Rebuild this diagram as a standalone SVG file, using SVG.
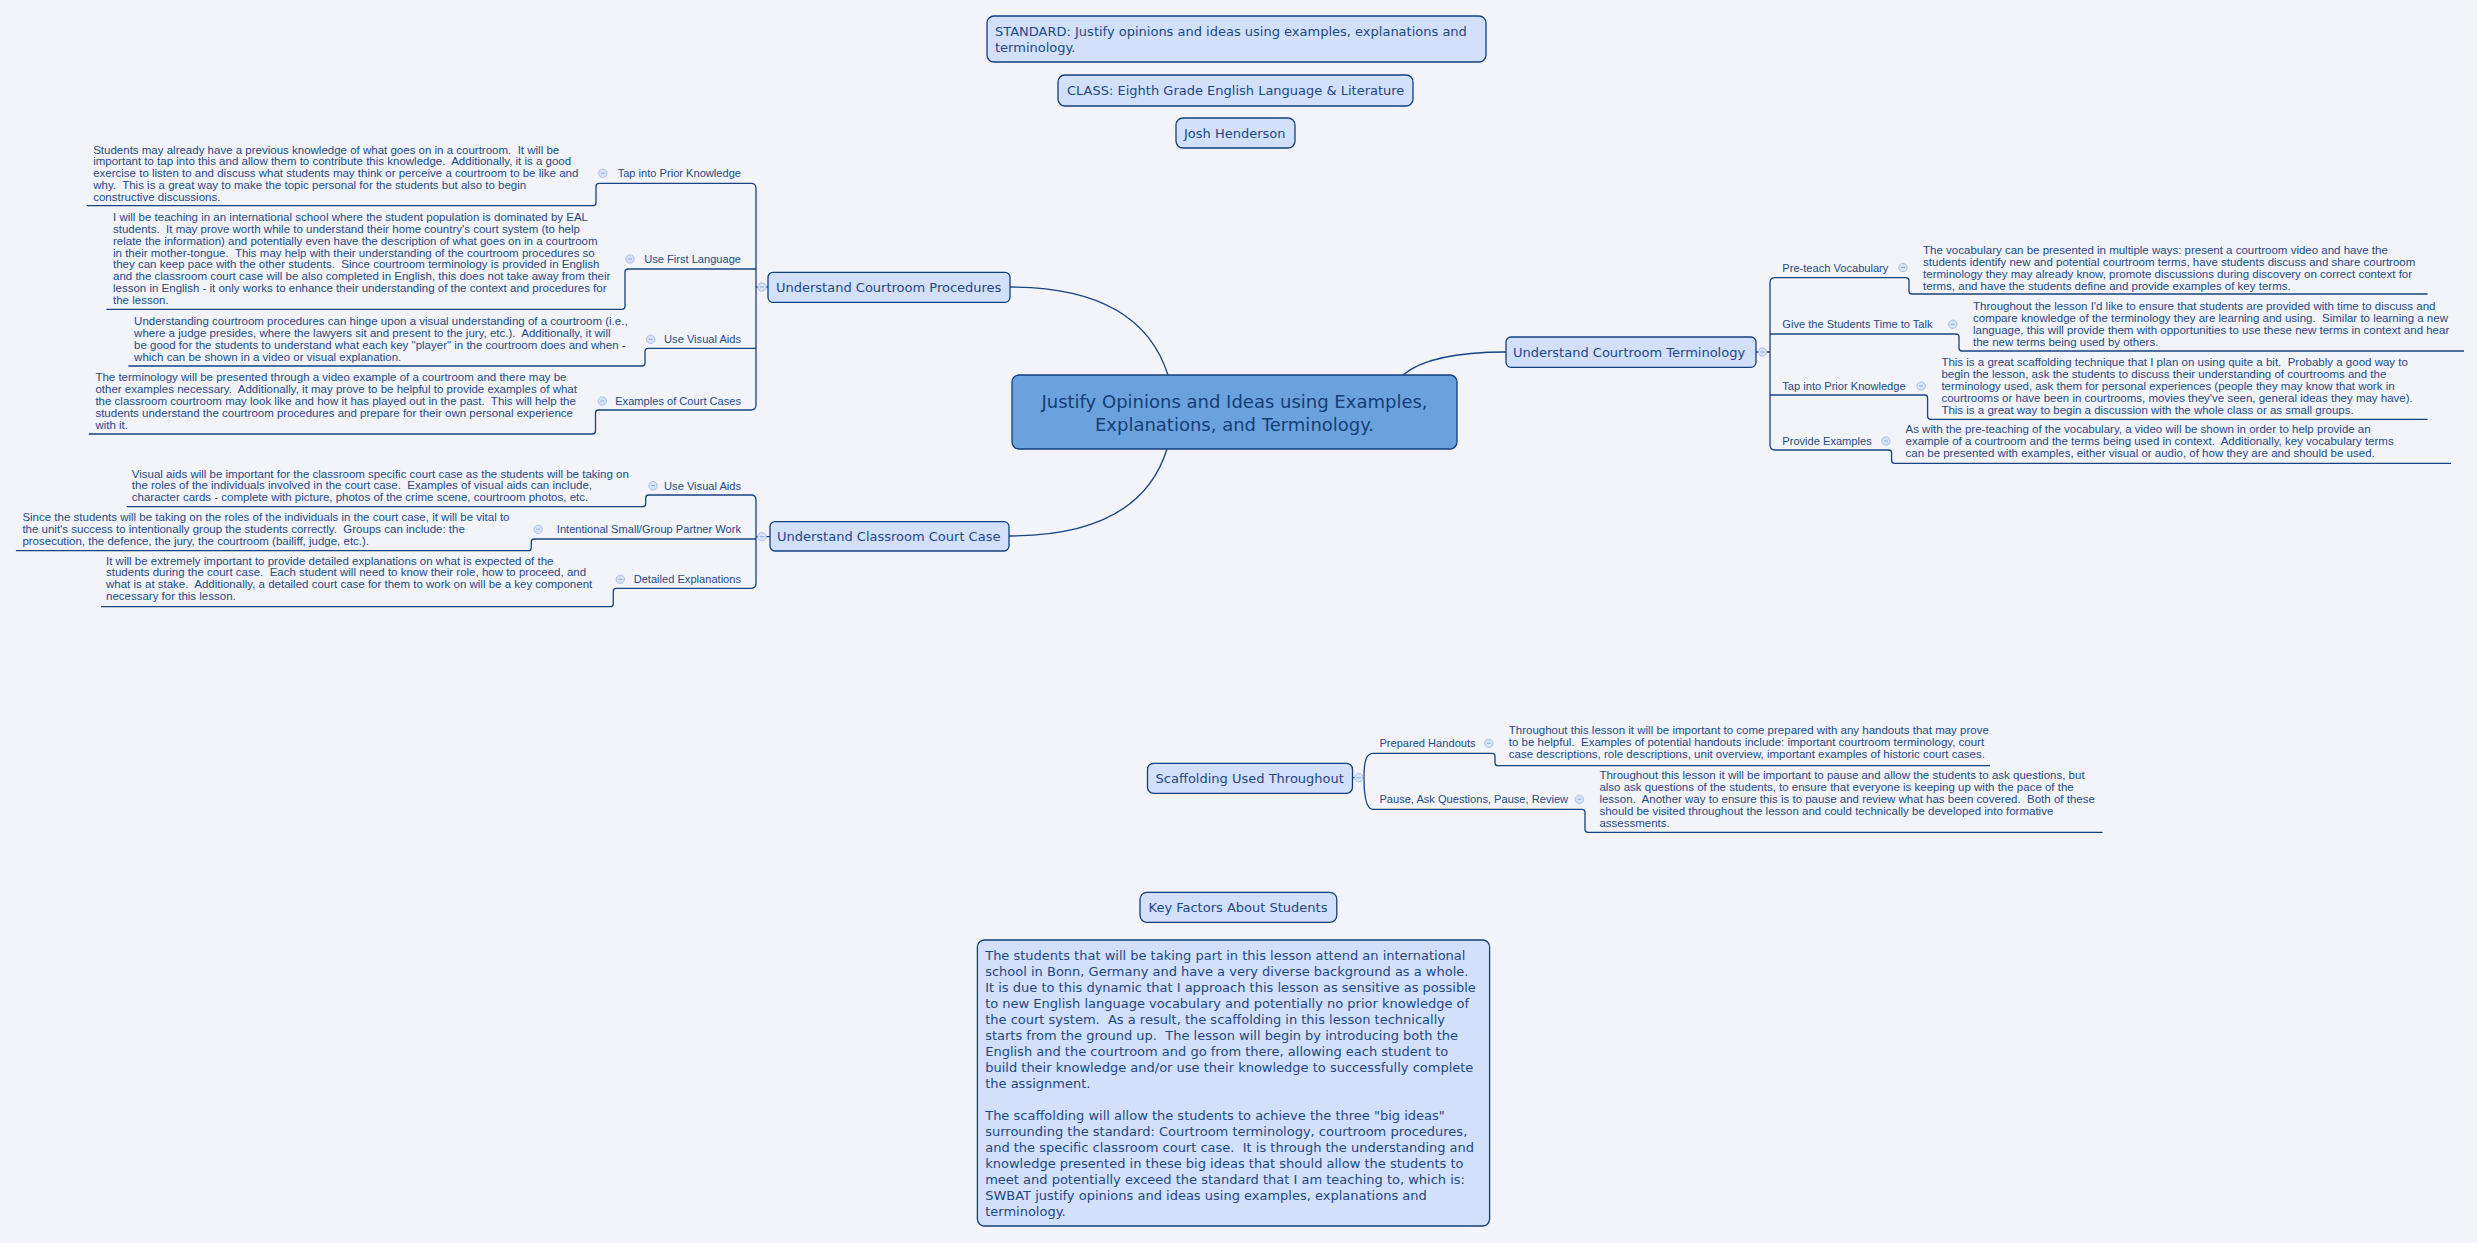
<svg xmlns="http://www.w3.org/2000/svg" xmlns:xlink="http://www.w3.org/1999/xlink" width="2477" height="1243" viewBox="0 0 2477 1243">
<defs>
<style>
.box{fill:#d3e0fb;stroke:#123f7e;stroke-width:1.3}
.root{fill:#6aa2de;stroke:#123f7e;stroke-width:1.3}
.big{font-family:"DejaVu Sans",Verdana,sans-serif;font-size:13px;fill:#1d4883}
.rt{font-family:"DejaVu Sans",Verdana,sans-serif;font-size:18px;fill:#153e75;text-anchor:middle}
.sm{font-family:"Liberation Sans",Arial,sans-serif;font-size:11.5px;fill:#1f4a86}
.lb{font-family:"Liberation Sans",Arial,sans-serif;font-size:11.1px;fill:#1f4a86}
.end{text-anchor:end}
.ln{fill:none;stroke:#17437f;stroke-width:1.3}
</style>
<g id="tg"><circle r="4.2" fill="#d7e3f8" stroke="#aac1ea" stroke-width="1"/><line x1="-2" y1="0" x2="2" y2="0" stroke="#8eaadb" stroke-width="1"/></g>
</defs>
<rect x="0" y="0" width="2477" height="1243" fill="#f2f4f9"/>

<g id="connectors">
<path class="ln" d="M1010,287 Q1140,287 1168,375"/>
<path class="ln" d="M1167,449 Q1140,536 1009,536"/>
<path class="ln" d="M1403,375 Q1430,352 1506,352"/>
<path class="ln" d="M751,183.3 Q756,183.3 756,188.3 V405 Q756,410 751,410 M756,287 H768"/>
<path class="ln" d="M86.6,205.7 H593 Q596,205.7 596,202.7 V186.3 Q596,183.3 599,183.3 H751"/>
<path class="ln" d="M106.4,309.3 H622 Q625,309.3 625,306.3 V272 Q625,269 628,269 H756"/>
<path class="ln" d="M128.4,366 H642 Q645,366 645,363 V351.3 Q645,348.3 648,348.3 H756"/>
<path class="ln" d="M88.8,434 H592.5 Q595.5,434 595.5,431 V413 Q595.5,410 598.5,410 H751"/>
<path class="ln" d="M751,495 Q756,495 756,500 V583.3 Q756,588.3 751,588.3 M756,536.7 H770"/>
<path class="ln" d="M126.8,506.7 H642.7 Q645.7,506.7 645.7,503.7 V498 Q645.7,495 648.7,495 H751"/>
<path class="ln" d="M15.9,550.7 H528.3 Q531.3,550.7 531.3,547.7 V542 Q531.3,539 534.3,539 H756"/>
<path class="ln" d="M101,606.7 H610.3 Q613.3,606.7 613.3,603.7 V591.3 Q613.3,588.3 616.3,588.3 H751"/>
<path class="ln" d="M1775,277.7 Q1770,277.7 1770,282.7 V445 Q1770,450 1775,450 M1756,352 H1770"/>
<path class="ln" d="M1775,277.7 H1906 Q1909,277.7 1909,280.7 V291 Q1909,294 1912,294 H2427.6"/>
<path class="ln" d="M1770,334 H1956 Q1959,334 1959,337 V348 Q1959,351 1962,351 H2464"/>
<path class="ln" d="M1770,395 H1924.6 Q1927.6,395 1927.6,398 V416.3 Q1927.6,419.3 1930.6,419.3 H2427.6"/>
<path class="ln" d="M1775,450 H1888.6 Q1891.6,450 1891.6,453 V460.3 Q1891.6,463.3 1894.6,463.3 H2451"/>
<path class="ln" d="M1373,753.3 C1366,753.3 1364,762 1364,777.7 C1364,793 1366,809.3 1373,809.3 M1352.5,777.7 H1364"/>
<path class="ln" d="M1373,753.3 H1492 Q1495,753.3 1495,756.3 V762.7 Q1495,765.7 1498,765.7 H1990"/>
<path class="ln" d="M1373,809.3 H1582 Q1585,809.3 1585,812.3 V829.3 Q1585,832.3 1588,832.3 H2102.5"/>
</g>

<g id="standard">
<rect class="box" x="987" y="16" width="499" height="46" rx="7"/>
<text class="big"><tspan x="995" y="36">STANDARD: Justify opinions and ideas using examples, explanations and</tspan><tspan x="995" y="52">terminology.</tspan></text>
</g>
<g id="class">
<rect class="box" x="1058" y="75" width="355" height="31" rx="7"/>
<text class="big" x="1067" y="95">CLASS: Eighth Grade English Language &amp; Literature</text>
</g>
<g id="author">
<rect class="box" x="1176" y="118" width="119" height="30" rx="7"/>
<text class="big" x="1184" y="137.5">Josh Henderson</text>
</g>

<g id="root">
<rect class="root" x="1012" y="375" width="445" height="74" rx="7"/>
<text class="rt"><tspan x="1234.5" y="408">Justify Opinions and Ideas using Examples,</tspan><tspan x="1234.5" y="430.5">Explanations, and Terminology.</tspan></text>
</g>

<g id="procedures">
<rect class="box" x="768" y="272.3" width="242" height="30" rx="5"/>
<text class="big" x="776" y="292">Understand Courtroom Procedures</text>
<use xlink:href="#tg" x="762" y="287"/>
</g>
<g id="proc-prior">
<text class="lb end" x="741" y="177">Tap into Prior Knowledge</text>
<use xlink:href="#tg" x="602.8" y="173.3"/>
</g>
<g id="proc-prior-note">
<text class="sm" xml:space="preserve"><tspan x="93.2" y="153.5">Students may already have a previous knowledge of what goes on in a courtroom.  It will be</tspan><tspan x="93.2" y="165.3">important to tap into this and allow them to contribute this knowledge.  Additionally, it is a good</tspan><tspan x="93.2" y="177.2">exercise to listen to and discuss what students may think or perceive a courtroom to be like and</tspan><tspan x="93.2" y="189">why.  This is a great way to make the topic personal for the students but also to begin</tspan><tspan x="93.2" y="200.8">constructive discussions.</tspan></text>
</g>
<g id="proc-lang">
<text class="lb end" x="741" y="263">Use First Language</text>
<use xlink:href="#tg" x="630" y="259"/>
</g>
<g id="proc-lang-note">
<text class="sm" xml:space="preserve"><tspan x="113" y="221">I will be teaching in an international school where the student population is dominated by EAL</tspan><tspan x="113" y="232.85">students.  It may prove worth while to understand their home country's court system (to help</tspan><tspan x="113" y="244.7">relate the information) and potentially even have the description of what goes on in a courtroom</tspan><tspan x="113" y="256.55">in their mother-tongue.  This may help with their understanding of the courtroom procedures so</tspan><tspan x="113" y="268.4">they can keep pace with the other students.  Since courtroom terminology is provided in English</tspan><tspan x="113" y="280.25">and the classroom court case will be also completed in English, this does not take away from their</tspan><tspan x="113" y="292.1">lesson in English - it only works to enhance their understanding of the context and procedures for</tspan><tspan x="113" y="303.95">the lesson.</tspan></text>
</g>
<g id="proc-visual">
<text class="lb end" x="741" y="343">Use Visual Aids</text>
<use xlink:href="#tg" x="650.7" y="339.3"/>
</g>
<g id="proc-visual-note">
<text class="sm" xml:space="preserve"><tspan x="134.1" y="325.2">Understanding courtroom procedures can hinge upon a visual understanding of a courtroom (i.e.,</tspan><tspan x="134.1" y="337">where a judge presides, where the lawyers sit and present to the jury, etc.).  Additionally, it will</tspan><tspan x="134.1" y="348.9">be good for the students to understand what each key "player" in the courtroom does and when -</tspan><tspan x="134.1" y="360.7">which can be shown in a video or visual explanation.</tspan></text>
</g>
<g id="proc-examples">
<text class="lb end" x="741" y="405">Examples of Court Cases</text>
<use xlink:href="#tg" x="602.3" y="401"/>
</g>
<g id="proc-examples-note">
<text class="sm" xml:space="preserve"><tspan x="95.4" y="381.2">The terminology will be presented through a video example of a courtroom and there may be</tspan><tspan x="95.4" y="393">other examples necessary.  Additionally, it may prove to be helpful to provide examples of what</tspan><tspan x="95.4" y="404.9">the classroom courtroom may look like and how it has played out in the past.  This will help the</tspan><tspan x="95.4" y="416.7">students understand the courtroom procedures and prepare for their own personal experience</tspan><tspan x="95.4" y="428.6">with it.</tspan></text>
</g>

<g id="classroom">
<rect class="box" x="770" y="521.7" width="239" height="29.3" rx="5"/>
<text class="big" x="777" y="541">Understand Classroom Court Case</text>
<use xlink:href="#tg" x="762" y="536.7"/>
</g>
<g id="case-visual">
<text class="lb end" x="741" y="489.5">Use Visual Aids</text>
<use xlink:href="#tg" x="653" y="485.7"/>
</g>
<g id="case-visual-note">
<text class="sm" xml:space="preserve"><tspan x="131.8" y="477.5">Visual aids will be important for the classroom specific court case as the students will be taking on</tspan><tspan x="131.8" y="489.3">the roles of the individuals involved in the court case.  Examples of visual aids can include,</tspan><tspan x="131.8" y="501.2">character cards - complete with picture, photos of the crime scene, courtroom photos, etc.</tspan></text>
</g>
<g id="case-group">
<text class="lb end" x="741" y="533">Intentional Small/Group Partner Work</text>
<use xlink:href="#tg" x="538.2" y="529.3"/>
</g>
<g id="case-group-note">
<text class="sm" xml:space="preserve"><tspan x="22.4" y="520.8">Since the students will be taking on the roles of the individuals in the court case, it will be vital to</tspan><tspan x="22.4" y="532.7">the unit's success to intentionally group the students correctly.  Groups can include: the</tspan><tspan x="22.4" y="544.5">prosecution, the defence, the jury, the courtroom (bailiff, judge, etc.).</tspan></text>
</g>
<g id="case-explain">
<text class="lb end" x="741" y="583">Detailed Explanations</text>
<use xlink:href="#tg" x="620.3" y="579.3"/>
</g>
<g id="case-explain-note">
<text class="sm" xml:space="preserve"><tspan x="106" y="564.5">It will be extremely important to provide detailed explanations on what is expected of the</tspan><tspan x="106" y="576.4">students during the court case.  Each student will need to know their role, how to proceed, and</tspan><tspan x="106" y="588.2">what is at stake.  Additionally, a detailed court case for them to work on will be a key component</tspan><tspan x="106" y="600">necessary for this lesson.</tspan></text>
</g>

<g id="terminology">
<rect class="box" x="1506" y="337" width="250" height="30.3" rx="5"/>
<text class="big" x="1513" y="356.5">Understand Courtroom Terminology</text>
<use xlink:href="#tg" x="1762.5" y="352"/>
</g>
<g id="term-vocab">
<text class="lb" x="1782.3" y="272">Pre-teach Vocabulary</text>
<use xlink:href="#tg" x="1903" y="267.5"/>
</g>
<g id="term-vocab-note">
<text class="sm" xml:space="preserve"><tspan x="1923.1" y="254.2">The vocabulary can be presented in multiple ways: present a courtroom video and have the</tspan><tspan x="1923.1" y="266.1">students identify new and potential courtroom terms, have students discuss and share courtroom</tspan><tspan x="1923.1" y="277.9">terminology they may already know, promote discussions during discovery on correct context for</tspan><tspan x="1923.1" y="289.8">terms, and have the students define and provide examples of key terms.</tspan></text>
</g>
<g id="term-talk">
<text class="lb" x="1782.3" y="328">Give the Students Time to Talk</text>
<use xlink:href="#tg" x="1952.8" y="324.3"/>
</g>
<g id="term-talk-note">
<text class="sm" xml:space="preserve"><tspan x="1973" y="310.2">Throughout the lesson I'd like to ensure that students are provided with time to discuss and</tspan><tspan x="1973" y="322">compare knowledge of the terminology they are learning and using.  Similar to learning a new</tspan><tspan x="1973" y="333.9">language, this will provide them with opportunities to use these new terms in context and hear</tspan><tspan x="1973" y="345.7">the new terms being used by others.</tspan></text>
</g>
<g id="term-prior">
<text class="lb" x="1782.3" y="390">Tap into Prior Knowledge</text>
<use xlink:href="#tg" x="1921.2" y="386"/>
</g>
<g id="term-prior-note">
<text class="sm" xml:space="preserve"><tspan x="1941.4" y="366.2">This is a great scaffolding technique that I plan on using quite a bit.  Probably a good way to</tspan><tspan x="1941.4" y="378">begin the lesson, ask the students to discuss their understanding of courtrooms and the</tspan><tspan x="1941.4" y="389.9">terminology used, ask them for personal experiences (people they may know that work in</tspan><tspan x="1941.4" y="401.7">courtrooms or have been in courtrooms, movies they've seen, general ideas they may have).</tspan><tspan x="1941.4" y="413.6">This is a great way to begin a discussion with the whole class or as small groups.</tspan></text>
</g>
<g id="term-examples">
<text class="lb" x="1782.3" y="445">Provide Examples</text>
<use xlink:href="#tg" x="1885.9" y="441"/>
</g>
<g id="term-examples-note">
<text class="sm" xml:space="preserve"><tspan x="1905.5" y="432.8">As with the pre-teaching of the vocabulary, a video will be shown in order to help provide an</tspan><tspan x="1905.5" y="444.7">example of a courtroom and the terms being used in context.  Additionally, key vocabulary terms</tspan><tspan x="1905.5" y="456.5">can be presented with examples, either visual or audio, of how they are and should be used.</tspan></text>
</g>

<g id="scaffolding">
<rect class="box" x="1147.5" y="763.3" width="205" height="30" rx="6"/>
<text class="big" x="1155.6" y="783">Scaffolding Used Throughout</text>
<use xlink:href="#tg" x="1358.8" y="777.7"/>
</g>
<g id="scaf-handouts">
<text class="lb" x="1379.4" y="747">Prepared Handouts</text>
<use xlink:href="#tg" x="1488.8" y="743.3"/>
</g>
<g id="scaf-handouts-note">
<text class="sm" xml:space="preserve"><tspan x="1508.75" y="734.2">Throughout this lesson it will be important to come prepared with any handouts that may prove</tspan><tspan x="1508.75" y="746">to be helpful.  Examples of potential handouts include: important courtroom terminology, court</tspan><tspan x="1508.75" y="757.9">case descriptions, role descriptions, unit overview, important examples of historic court cases.</tspan></text>
</g>
<g id="scaf-pause">
<text class="lb" x="1379.4" y="803">Pause, Ask Questions, Pause, Review</text>
<use xlink:href="#tg" x="1579.4" y="799.3"/>
</g>
<g id="scaf-pause-note">
<text class="sm" xml:space="preserve"><tspan x="1599.4" y="779.2">Throughout this lesson it will be important to pause and allow the students to ask questions, but</tspan><tspan x="1599.4" y="791">also ask questions of the students, to ensure that everyone is keeping up with the pace of the</tspan><tspan x="1599.4" y="802.9">lesson.  Another way to ensure this is to pause and review what has been covered.  Both of these</tspan><tspan x="1599.4" y="814.7">should be visited throughout the lesson and could technically be developed into formative</tspan><tspan x="1599.4" y="826.6">assessments.</tspan></text>
</g>

<g id="key-factors">
<rect class="box" x="1140" y="892.3" width="196.8" height="30" rx="7"/>
<text class="big" x="1148.5" y="911.5">Key Factors About Students</text>
</g>
<g id="key-factors-text">
<rect class="box" x="977.4" y="940" width="512.2" height="286" rx="7"/>
<text class="big" xml:space="preserve"><tspan x="985.2" y="960">The students that will be taking part in this lesson attend an international</tspan><tspan x="985.2" y="976">school in Bonn, Germany and have a very diverse background as a whole.</tspan><tspan x="985.2" y="992">It is due to this dynamic that I approach this lesson as sensitive as possible</tspan><tspan x="985.2" y="1008">to new English language vocabulary and potentially no prior knowledge of</tspan><tspan x="985.2" y="1024">the court system.  As a result, the scaffolding in this lesson technically</tspan><tspan x="985.2" y="1040">starts from the ground up.  The lesson will begin by introducing both the</tspan><tspan x="985.2" y="1056">English and the courtroom and go from there, allowing each student to</tspan><tspan x="985.2" y="1072">build their knowledge and/or use their knowledge to successfully complete</tspan><tspan x="985.2" y="1088">the assignment.</tspan><tspan x="985.2" y="1120">The scaffolding will allow the students to achieve the three "big ideas"</tspan><tspan x="985.2" y="1136">surrounding the standard: Courtroom terminology, courtroom procedures,</tspan><tspan x="985.2" y="1152">and the specific classroom court case.  It is through the understanding and</tspan><tspan x="985.2" y="1168">knowledge presented in these big ideas that should allow the students to</tspan><tspan x="985.2" y="1184">meet and potentially exceed the standard that I am teaching to, which is:</tspan><tspan x="985.2" y="1200">SWBAT justify opinions and ideas using examples, explanations and</tspan><tspan x="985.2" y="1216">terminology.</tspan></text>
</g>
</svg>
